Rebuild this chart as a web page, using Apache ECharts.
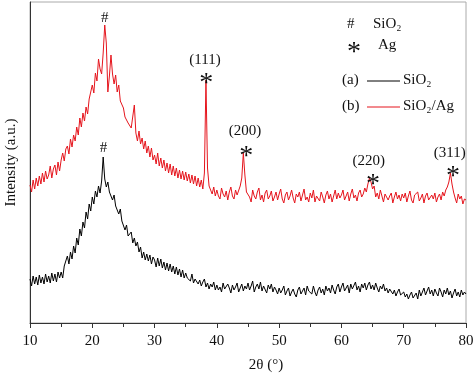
<!DOCTYPE html>
<html><head><meta charset="utf-8">
<script src="https://cdn.jsdelivr.net/npm/echarts@6/dist/echarts.min.js"></script>
<style>html,body{margin:0;padding:0;background:#fff}#c{width:474px;height:374px}</style>
</head><body><div id="c"></div>
<script>
// sampling grid of the scans (2θ, degrees)
const angleStart = 10, angleStep = 0.25;
// SiO2/Ag (b), intensity a.u., one row per 5 degrees
const intensitySiO2Ag = [
138,131,143,134,145,137,147,139,150,141,152,144,148,157,145,154,158,148,161,152,
163,170,162,174,177,169,184,176,188,182,196,188,205,196,210,202,216,209,224,226,
238,230,250,242,264,254,249,270,298,280,231,247,268,249,239,248,231,238,222,221,
215,206,204,200,198,195,193,218,190,182,192,179,185,174,182,170,177,166,175,163,
168,159,170,157,165,155,163,152,160,150,159,148,157,147,155,145,153,144,152,143,
151,142,149,140,148,139,147,137,145,136,143,134,150,243,155,137,138,129,136,127,
133,127,124,135,129,126,132,123,131,136,127,124,133,128,130,137,145,170,148,131,
132,126,121,133,127,124,131,135,123,128,121,130,133,124,127,132,122,126,131,123,
129,134,124,120,128,131,123,127,133,125,120,129,126,131,122,128,134,123,126,121,
130,125,133,121,127,129,122,131,126,120,128,132,124,129,121,127,133,124,130,125,
128,133,123,127,131,122,129,134,125,128,122,130,133,126,129,135,131,139,145,141,
134,137,126,130,124,133,127,121,129,131,123,127,130,120,126,131,124,128,122,129,
125,130,121,127,132,123,120,128,126,131,122,125,129,120,127,130,123,121,128,124,
130,121,126,129,123,131,127,133,136,141,150,139,131,125,120,129,124,127,119,124,
123];
// SiO2 (a)
const intensitySiO2 = [
44,37,47,39,46,38,48,40,46,39,49,41,47,40,50,42,49,41,51,45,
51,45,57,58,67,59,71,64,77,70,85,78,94,87,101,95,111,104,119,112,
126,119,132,126,137,130,142,166,144,136,141,131,132,123,128,117,117,109,114,102,
101,93,98,87,87,91,80,85,77,81,71,76,65,71,63,69,62,68,59,66,
63,56,65,57,64,55,61,53,60,52,59,51,57,49,56,48,54,46,53,45,
50,45,47,42,49,40,44,46,39,43,37,41,44,36,40,34,39,36,41,33,
38,33,36,31,40,34,32,39,35,30,38,33,36,40,31,35,39,32,37,34,
40,33,37,42,31,36,39,34,41,32,37,35,30,38,34,39,31,36,33,29,
35,30,33,37,28,32,35,27,31,34,29,26,33,36,29,31,35,28,37,32,
34,29,37,31,27,33,36,30,34,28,37,32,35,30,38,33,29,36,39,31,
36,40,32,35,38,30,39,34,36,41,33,37,31,39,35,40,33,38,41,34,
38,33,40,35,31,37,34,39,32,35,30,34,36,29,33,27,31,34,28,30,
31,26,29,24,28,31,25,27,30,24,33,27,31,35,28,32,36,29,33,27,
34,30,27,35,31,26,33,29,35,28,32,25,30,34,27,31,26,33,28,31,
29];
const xTicks = [10,20,30,40,50,60,70,80];
// peak annotations: [angle, intensity, text]
const hashMarks = [[22.0,305,'#'],[21.8,175,'#']];
const planeLabels = [[38.1,263,'(111)'],[44.5,192,'(200)'],[64.4,162,'(220)'],[77.4,170,'(311)']];
const agMarks = [[38.3,246],[44.7,173],[65.05,145],[77.9,153]];

function pairs(arr){ return arr.map((v,i)=>[angleStart+i*angleStep, v]); }
const serif = '"Liberation Serif","Times New Roman",serif';
const chart = echarts.init(document.getElementById('c'));
const mp = (list)=>list.map(p=>({coord:[p[0],p[1]], value:p[2]}));
const starLabel = {fontFamily:serif,fontSize:28,offset:[0,7]};
chart.setOption({
  animation:false,
  grid:{left:30,right:8,top:2,bottom:51,show:true,borderColor:'#aaa',borderWidth:1,
    containLabel:false,outerBoundsMode:'none'},
  xAxis:{type:'value',min:10,max:80,interval:10,
    axisLine:{show:true,lineStyle:{color:'#333',width:1}},
    axisTick:{show:true,inside:false,length:5,lineStyle:{color:'#333'}},
    minorTick:{show:true,splitNumber:2,length:4,lineStyle:{color:'#333'}},
    splitLine:{show:false},
    axisLabel:{color:'#111',fontFamily:serif,fontSize:15,margin:11,
      formatter:v=>xTicks.includes(v)?String(v):''},
    name:'2θ (°)',nameLocation:'middle',nameGap:35,
    nameTextStyle:{color:'#111',fontFamily:serif,fontSize:15,padding:[0,0,0,36]}},
  yAxis:{type:'value',min:0,max:321,
    axisLine:{show:true,lineStyle:{color:'#333',width:1}},
    axisTick:{show:false},axisLabel:{show:false},splitLine:{show:false},
    name:'Intensity (a.u.)',nameLocation:'middle',nameGap:11,
    nameTextStyle:{color:'#111',fontFamily:serif,fontSize:15}},
  series:[
    {type:'line',data:pairs(intensitySiO2),showSymbol:false,symbol:'none',
      lineStyle:{color:'#000',width:1},z:3,
      markPoint:{symbol:'circle',symbolSize:0,silent:true,
        label:{show:true,position:'inside',formatter:p=>p.value,color:'#111',fontFamily:serif,fontSize:15},
        data:mp([hashMarks[1]])}},
    {type:'line',data:pairs(intensitySiO2Ag),showSymbol:false,symbol:'none',
      lineStyle:{color:'#e5141c',width:1},z:2,
      markPoint:{symbol:'circle',symbolSize:0,silent:true,
        label:{show:true,position:'inside',formatter:p=>p.value,color:'#111',fontFamily:serif,fontSize:15},
        data:mp([hashMarks[0]]).concat(mp(planeLabels)).concat(agMarks.map(p=>({coord:p,value:'*',
          label:starLabel})))}}
  ],
  graphic:[
    {type:'text',left:347,top:17,style:{text:'#',font:'15px '+serif,fill:'#111'}},
    {type:'text',left:373,top:17,style:{text:'SiO₂',font:'15px '+serif,fill:'#111'}},
    {type:'text',left:347,top:39,style:{text:'*',font:'28px '+serif,fill:'#111'}},
    {type:'text',left:378,top:38,style:{text:'Ag',font:'15px '+serif,fill:'#111'}},
    {type:'text',left:342,top:73,style:{text:'(a)',font:'15px '+serif,fill:'#111'}},
    {type:'line',shape:{x1:367,y1:81,x2:400,y2:81},style:{stroke:'#000',lineWidth:1}},
    {type:'text',left:403,top:73,style:{text:'SiO₂',font:'15px '+serif,fill:'#111'}},
    {type:'text',left:342,top:99,style:{text:'(b)',font:'15px '+serif,fill:'#111'}},
    {type:'line',shape:{x1:367,y1:107,x2:400,y2:107},style:{stroke:'#e5141c',lineWidth:1}},
    {type:'text',left:403,top:99,style:{text:'SiO₂/Ag',font:'15px '+serif,fill:'#111'}}
  ]
});
</script></body></html>
